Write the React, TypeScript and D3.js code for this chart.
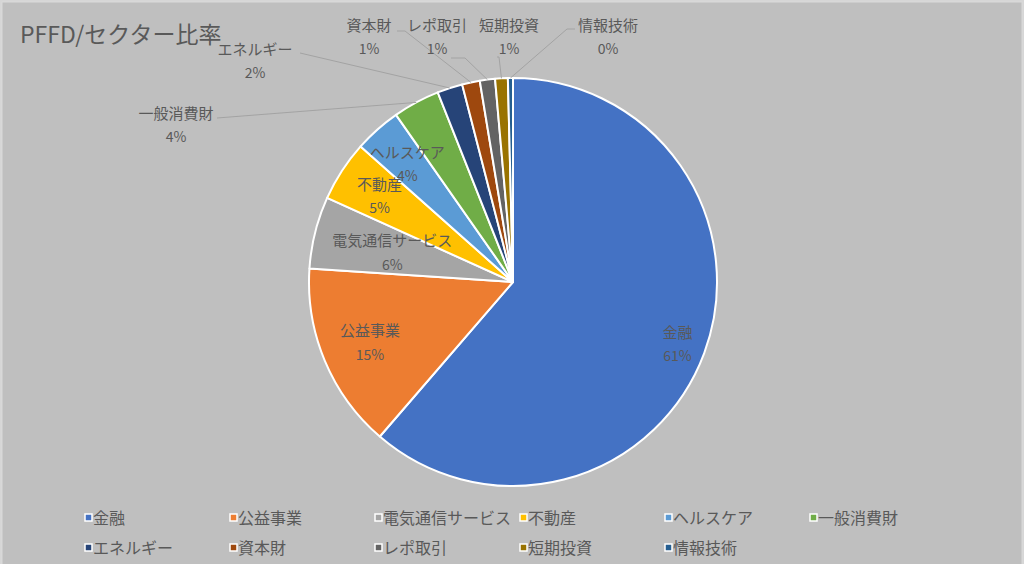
import React from 'react';
import { pie, arc, scaleOrdinal, PieArcDatum } from 'd3';

// data (percent of portfolio)
const sectors = ['金融', '公益事業', '電気通信サービス', '不動産', 'ヘルスケア', '一般消費財', 'エネルギー', '資本財', 'レポ取引', '短期投資', '情報技術'];
const weights = [61.2, 14.7, 5.7, 4.8, 3.7, 3.7, 2.0, 1.4, 1.2, 1.0, 0.4];
const palette = ['#4472C4', '#ED7D31', '#A5A5A5', '#FFC000', '#5B9BD5', '#70AD47', '#264478', '#9E480E', '#636363', '#997300', '#255E91'];
const title = 'PFFD/セクター比率';

// label layout: inside labels use a radius factor, outside labels get an offset + leader
const insideRadius: Record<string, number> = { '金融': 0.86, '公益事業': 0.76, '電気通信サービス': 0.61, '不動産': 0.78, 'ヘルスケア': 0.78 };
const outsideLabel: Record<string, { at: [number, number]; leader: [number, number][] }> = {
  '一般消費財': { at: [-337, -158], leader: [[-296, -164]] },
  'エネルギー': { at: [-258, -222], leader: [[-213, -229]] },
  '資本財': { at: [-144, -246], leader: [[-116, -251], [-108, -251]] },
  'レポ取引': { at: [-76, -246], leader: [[-62, -224], [-48, -224]] },
  '短期投資': { at: [-4, -246], leader: [[-16, -225], [-14, -225]] },
  '情報技術': { at: [95, -246], leader: [[62, -253], [54, -253]] },
};

const W = 1024;
const H = 564;
const cx = 513;
const cy = 282;
const R = 204;
const FONT = '"Noto Sans CJK JP", "Noto Sans", sans-serif';
const TEXT = '#595959';

type Row = { name: string; value: number };

export default function App() {
  const rows: Row[] = sectors.map((name, i) => ({ name, value: weights[i] }));
  const total = weights.reduce((a, b) => a + b, 0);
  const color = scaleOrdinal<string, string>().domain(sectors).range(palette);

  const arcs = pie<Row>().value(d => d.value).sort(null)(rows);
  const sliceArc = arc<PieArcDatum<Row>>().innerRadius(0).outerRadius(R);
  const edgeArc = arc<PieArcDatum<Row>>().innerRadius(R).outerRadius(R);

  const legendCols = [88, 233, 378, 523, 668, 813];
  const legendRows = [517, 547];

  return (
    <svg width={W} height={H} style={{ position: 'fixed', left: 0, top: 0 }} fontFamily={FONT}>
      <rect x={0} y={0} width={W} height={H} fill="#d6d6d6" />
      <rect x={2} y={2} width={W - 4} height={H} fill="#bfbfbf" stroke="#d9d9d9" strokeWidth={1} />

      <text x={20} y={43} fontSize={23} fill={TEXT}>{title}</text>

      <g transform={`translate(${cx},${cy})`}>
        {arcs.map(a => (
          <path key={a.data.name} d={sliceArc(a) || ''} fill={color(a.data.name)} stroke="#ffffff" strokeWidth={2} strokeLinejoin="round" />
        ))}

        {arcs.map(a => {
          const name = a.data.name;
          const pct = `${Math.round((a.data.value / total) * 100)}%`;
          let x: number, y: number;
          let leader: React.ReactNode = null;
          if (insideRadius[name] !== undefined) {
            const r = insideRadius[name] * R;
            [x, y] = arc<PieArcDatum<Row>>().innerRadius(r).outerRadius(r).centroid(a);
          } else {
            const o = outsideLabel[name];
            [x, y] = o.at;
            const end = edgeArc.centroid(a);
            const pts = [...o.leader, end].map(p => p.join(',')).join(' ');
            leader = <polyline points={pts} fill="none" stroke="#a3a3a3" strokeWidth={1} />;
          }
          return (
            <g key={`lab-${name}`}>
              {leader}
              <text x={x} y={y - 12} textAnchor="middle" dominantBaseline="central" fontSize={15} fill={TEXT}>{name}</text>
              <text x={x} y={y + 12} textAnchor="middle" dominantBaseline="central" fontSize={14} fill={TEXT}>{pct}</text>
            </g>
          );
        })}
      </g>

      {sectors.map((name, i) => {
        const lx = legendCols[i % 6];
        const ly = legendRows[Math.floor(i / 6)];
        return (
          <g key={`leg-${name}`}>
            <rect x={lx - 3} y={ly - 3} width={7} height={7} fill={color(name)} stroke="#ffffff" strokeWidth={1.5} />
            <text x={lx + 5} y={ly} dominantBaseline="central" fontSize={16} fill={TEXT}>{name}</text>
          </g>
        );
      })}
    </svg>
  );
}
